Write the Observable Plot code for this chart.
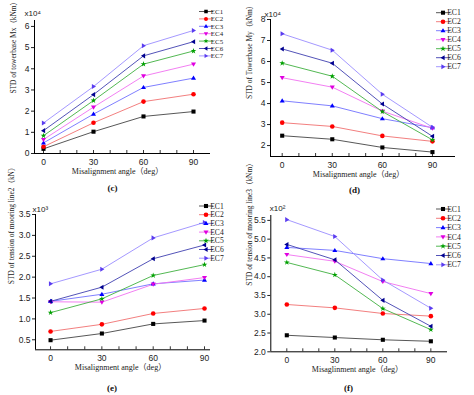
<!DOCTYPE html>
<html><head><meta charset="utf-8">
<script src="https://cdn.jsdelivr.net/npm/d3@7"></script>
<script src="https://cdn.jsdelivr.net/npm/@observablehq/plot@0.6"></script>
<style>
body{margin:0;background:#fff;}
#fig{position:relative;width:474px;height:395px;overflow:hidden;background:#fff;}
.panel{position:absolute;}
</style></head><body><div id="fig"></div>
<script>
const angles = [0, 30, 60, 90];
const minorTicks = [0, 10, 20, 30, 40, 50, 60, 70, 80, 90];
const seriesNames = ["EC1", "EC2", "EC3", "EC4", "EC5", "EC6", "EC7"];
const markerColors = ["#000000", "#ff0000", "#0000ff", "#e000e0", "#00a000", "#000090", "#5a3cf0"];
const lineColors = ["#444444", "#f07070", "#7070ff", "#f070f0", "#40b040", "#4040b0", "#9a8cff"];

// (c) STD of towerbase Mx, x10^4 kNm
const mxValues = [
  [0.22, 1.03, 1.75, 1.98],
  [0.32, 1.45, 2.45, 2.80],
  [0.50, 1.86, 3.12, 3.56],
  [0.66, 2.19, 3.66, 4.22],
  [0.84, 2.50, 4.22, 4.84],
  [1.08, 2.78, 4.61, 5.28],
  [1.44, 3.16, 5.09, 5.81]
];
// (d) STD of towerbase My, x10^4 kNm
const myValues = [
  [2.47, 2.30, 1.91, 1.69],
  [3.09, 2.91, 2.46, 2.20],
  [4.13, 3.89, 3.28, 2.85],
  [5.23, 4.78, 3.64, 2.82],
  [5.92, 5.30, 3.62, 2.27],
  [6.60, 5.92, 3.98, 2.44],
  [7.32, 6.54, 4.44, 2.87]
];
// (e) STD of tension of mooring line2, x10^3 kN
const line2Values = [
  [0.49, 0.65, 0.88, 0.96],
  [0.70, 0.87, 1.13, 1.25],
  [1.42, 1.59, 1.84, 1.93],
  [1.41, 1.40, 1.83, 1.99],
  [1.15, 1.48, 2.04, 2.30],
  [1.42, 1.76, 2.44, 2.77],
  [1.84, 2.19, 2.94, 3.31]
];
// (f) STD of tension of mooring line3, x10^2 kNm
const line3Values = [
  [2.44, 2.38, 2.32, 2.28],
  [3.26, 3.17, 3.02, 2.95],
  [4.78, 4.70, 4.48, 4.35],
  [4.59, 4.41, 3.87, 3.55],
  [4.38, 4.05, 3.15, 2.59],
  [4.86, 4.45, 3.37, 2.68],
  [5.52, 5.07, 3.91, 3.16]
];

const ticksC = [0, 1, 2, 3, 4, 5, 6];
const ticksD = [2, 3, 4, 5, 6, 7, 8];
const ticksE = [0.5, 1.0, 1.5, 2.0, 2.5, 3.0, 3.5];
const ticksF = [2.0, 2.5, 3.0, 3.5, 4.0, 4.5, 5.0, 5.5];

const triDown = {draw(ctx, size) { const s = Math.sqrt(size) * 0.62; ctx.moveTo(-s, -s * 0.65); ctx.lineTo(s, -s * 0.65); ctx.lineTo(0, s * 1.0); ctx.closePath(); }};
const triLeft = {draw(ctx, size) { const s = Math.sqrt(size) * 0.62; ctx.moveTo(s * 0.65, -s); ctx.lineTo(s * 0.65, s); ctx.lineTo(-s * 1.0, 0); ctx.closePath(); }};
const triRight = {draw(ctx, size) { const s = Math.sqrt(size) * 0.62; ctx.moveTo(-s * 0.65, -s); ctx.lineTo(-s * 0.65, s); ctx.lineTo(s * 1.0, 0); ctx.closePath(); }};
const triUp = {draw(ctx, size) { const s = Math.sqrt(size) * 0.62; ctx.moveTo(-s, s * 0.65); ctx.lineTo(s, s * 0.65); ctx.lineTo(0, -s * 1.0); ctx.closePath(); }};
const symbols = [d3.symbolSquare, d3.symbolCircle, triUp, triDown, d3.symbolStar, triLeft, triRight];
const radii = [2.3, 2.3, 2.3, 2.3, 1.8, 2.3, 2.3];

const SERIF = "'Liberation Serif', 'Times New Roman', 'Noto Sans CJK SC', serif";
const SANS = "'Liberation Sans', Arial, sans-serif";

function makePanel(cfg) {
  const m = cfg.margin;
  const innerH = cfg.h - m[0] - m[2];
  const marks = [
    Plot.ruleX([cfg.xDomain[0]], {stroke: "#000", strokeWidth: 1}),
    Plot.ruleY([cfg.yDomain[0]], {stroke: "#000", strokeWidth: 1}),
    Plot.axisY({ticks: cfg.yTicks, tickSize: 3, tickPadding: 2, tickFormat: cfg.yFormat, label: null, fontSize: 8.5}),
    Plot.axisX({ticks: angles, tickSize: 0, tickPadding: 5, tickFormat: d => String(d), label: null, fontSize: 8.5}),
    Plot.tickX(minorTicks, {x: d => d, insetTop: innerH - 3, stroke: "#000", strokeWidth: 0.8})
  ];
  seriesNames.forEach((s, i) => {
    const rows = angles.map((a, j) => ({angle: a, value: cfg.values[i][j]}));
    marks.push(Plot.line(rows, {x: "angle", y: "value", stroke: lineColors[i], strokeWidth: 0.9}));
  });
  seriesNames.forEach((s, i) => {
    const rows = angles.map((a, j) => ({angle: a, value: cfg.values[i][j]}));
    marks.push(Plot.dot(rows, {x: "angle", y: "value", symbol: symbols[i], fill: markerColors[i], stroke: "none", r: radii[i]}));
  });
  marks.push(Plot.text([cfg.exp], {text: d => d, frameAnchor: "top-left", dx: cfg.expDx, dy: cfg.expDy, textAnchor: "start", fontSize: 8, fontFamily: SANS, fill: "#222"}));
  marks.push(Plot.text([cfg.xLabel], {text: d => d, frameAnchor: "bottom", dx: cfg.xlDx, dy: cfg.xlDy, fontSize: 8, fontFamily: SERIF, fill: "#222"}));
  marks.push(Plot.text([cfg.yLabel], {text: d => d, frameAnchor: "left", dx: cfg.ylDx, dy: cfg.ylDy, rotate: -90, fontSize: 7.4, fontFamily: SERIF, fill: "#222"}));
  marks.push(Plot.text([cfg.tag], {text: d => d, frameAnchor: "bottom", dx: cfg.tagDx, dy: cfg.tagDy, fontSize: 9, fontWeight: "bold", fontFamily: SERIF, fill: "#111"}));

  const svg = Plot.plot({
    width: cfg.w, height: cfg.h,
    marginTop: m[0], marginRight: m[1], marginBottom: m[2], marginLeft: m[3],
    x: {domain: cfg.xDomain},
    y: {domain: cfg.yDomain},
    style: {fontFamily: SANS, fontSize: "9px", background: "transparent", color: "#222", overflow: "visible"},
    marks
  });
  const g = d3.select(svg).append("g");
  seriesNames.forEach((s, i) => {
    const y = cfg.legY + i * cfg.legDy;
    g.append("line").attr("x1", 199).attr("x2", 213).attr("y1", y).attr("y2", y).attr("stroke", lineColors[i]).attr("stroke-width", 0.9);
    g.append("path").attr("transform", `translate(206,${y})`).attr("d", d3.symbol(symbols[i], Math.PI * radii[i] * radii[i] * cfg.legScale)()).attr("fill", markerColors[i]);
    g.append("text").attr("x", 217).attr("y", y).attr("dy", "0.35em").attr("font-family", SERIF).attr("font-size", cfg.legFont).attr("fill", "#222").text(s);
  });
  const div = document.createElement("div");
  div.className = "panel";
  div.style.left = cfg.left + "px";
  div.style.top = cfg.top + "px";
  div.appendChild(svg);
  document.getElementById("fig").appendChild(div);
}

const fmt1 = d3.format(".1f");
makePanel({left: 0, top: 0, w: 237, h: 197, margin: [20, 27, 44, 34],
  xDomain: [-5.4, 100.2], yDomain: [0, 6.28], yTicks: ticksC, yFormat: d => String(d), values: mxValues,
  exp: "x10⁴", expDx: -10, expDy: -10,
  xLabel: "Misalignment angle（deg）", xlDx: -5, xlDy: 20,
  yLabel: "STD of towerbase Mx（kNm）", ylDx: -21, ylDy: 6.5,
  tag: "(c)", tagDx: -10, tagDy: 37, legY: 11.5, legDy: 7.4, legFont: 6.9, legScale: 0.75});
makePanel({left: 237, top: 0, w: 237, h: 197, margin: [19, 19, 41, 33],
  xDomain: [-7, 103.8], yDomain: [1.48, 8], yTicks: ticksD, yFormat: d => String(d), values: myValues,
  exp: "x10⁴", expDx: -6, expDy: -8,
  xLabel: "Misalignment angle（deg）", xlDx: -4.5, xlDy: 20,
  yLabel: "STD of Towerbase My（kNm）", ylDx: -20.6, ylDy: 11,
  tag: "(d)", tagDx: -8.5, tagDy: 36, legY: 12.7, legDy: 9, legFont: 7.7, legScale: 1});
makePanel({left: 0, top: 195, w: 237, h: 200, margin: [19, 27, 45.7, 35],
  xDomain: [-8.8, 93.5], yDomain: [0.26, 3.5], yTicks: ticksE, yFormat: fmt1, values: line2Values,
  exp: "x10³", expDx: -3, expDy: -8,
  xLabel: "Misalignment angle（deg）", xlDx: -2.5, xlDy: 20,
  yLabel: "STD of tension of mooring line2（kN）", ylDx: -24, ylDy: 2,
  tag: "(e)", tagDx: -11, tagDy: 41, legY: 11, legDy: 8.7, legFont: 7.6, legScale: 1});
makePanel({left: 237, top: 195, w: 237, h: 200, margin: [20, 27, 43.7, 33.3],
  xDomain: [-10, 100.4], yDomain: [2.0, 5.63], yTicks: ticksF, yFormat: fmt1, values: line3Values,
  exp: "x10²", expDx: -1, expDy: -10,
  xLabel: "Misaglinment angle（deg）", xlDx: -1.7, xlDy: 20,
  yLabel: "STD of tension of mooring line3（kNm）", ylDx: -21.6, ylDy: 2,
  tag: "(f)", tagDx: -10.7, tagDy: 39.5, legY: 14, legDy: 9.3, legFont: 7.7, legScale: 1});
</script></body></html>
